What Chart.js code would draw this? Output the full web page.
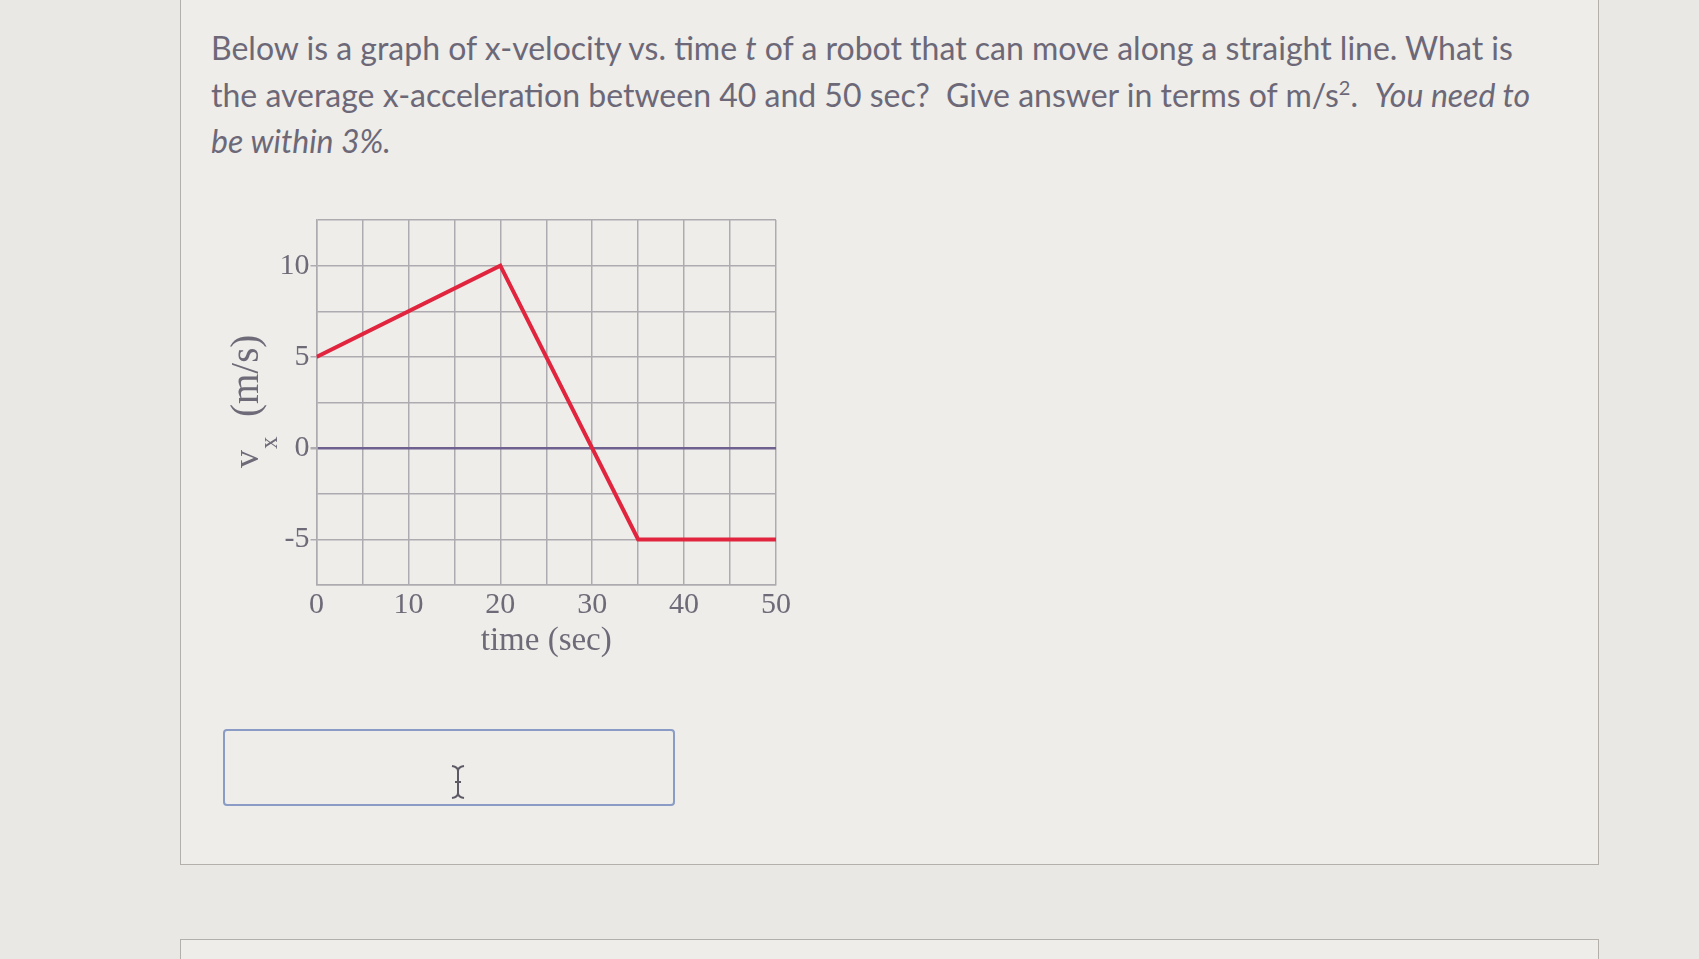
<!DOCTYPE html>
<html lang="en">
<head>
<meta charset="utf-8">
<script src="https://cdn.jsdelivr.net/npm/chart.js@4.4.1/dist/chart.umd.min.js"></script>
<style>
    html, body {
        margin: 0;
        padding: 0;
        width: 1699px;
        height: 959px;
        overflow: hidden;
        background: #e9e8e4;
    }

    .panel {
        position: absolute;
        left: 180px;
        top: -10px;
        width: 1417px;
        height: 873px;
        border: 1.5px solid #b3b0ac;
        background: #eeede9;
    }

    .nextPanel {
        position: absolute;
        left: 180px;
        top: 939px;
        width: 1417px;
        height: 40px;
        border: 1.5px solid #b3b0ac;
        background: #eeede9;
    }

    .question {
        position: absolute;
        left: 211px;
        top: 25px;
        font-family: Lato, sans-serif;
        font-size: 32px;
        line-height: 46.5px;
        color: #6c6878;
        white-space: nowrap;
    }

    .question sup {
        font-size: 20px;
        line-height: 0;
    }

    .chartBox {
        position: absolute;
        left: 200px;
        top: 200px;
        width: 640px;
        height: 470px;
    }

    .answerBox {
        position: absolute;
        left: 223px;
        top: 729px;
        width: 448px;
        height: 73px;
        border: 2px solid #8a9cc6;
        border-radius: 4px;
    }

    .cursor {
        position: absolute;
        left: 449px;
        top: 764px;
    }
</style>
</head>
<body>

<div class="panel"></div>
<div class="nextPanel"></div>

<div class="question">
    Below is a graph of x-velocity vs. time <i>t</i> of a robot that can move along a straight line. What is<br>
    the average x-acceleration between 40 and 50 sec?&nbsp; Give answer in terms of m/s<sup>2</sup>.&nbsp; <i>You need to<br>
    be within 3%.</i>
</div>

<div class="chartBox">
    <canvas id="velocityChart"></canvas>
</div>

<div class="answerBox"></div>
<svg class="cursor" width="18" height="36" viewBox="0 0 18 36">
    <path d="M3 2 Q9 3 9 7 L9 29 Q9 33 3 34 M15 2 Q9 3 9 7 M9 29 Q9 33 15 34 M6 18 L12 18"
          fill="none" stroke="#5d5a66" stroke-width="2"/>
</svg>

<script>
    // x-velocity vs time
    var times = [0, 20, 35, 50];
    var velocities = [5, 10, -5, -5];
    var xTickLabels = [0, 10, 20, 30, 40, 50];
    var yTickLabels = [-5, 0, 5, 10];

    var inkColor = '#6e6a78';
    var gridColor = '#aeabb0';

    // the v_x (m/s) title needs a subscript, so it is drawn by hand
    var yTitlePlugin = {
        id: 'yTitle',
        afterDraw: function (chart) {
            var ctx = chart.ctx;
            ctx.save();
            ctx.translate(58, 268);
            ctx.rotate(-Math.PI / 2);
            ctx.fillStyle = inkColor;
            ctx.textBaseline = 'alphabetic';
            ctx.textAlign = 'left';
            ctx.font = '36px "Liberation Serif", serif';
            ctx.fillText('v', 0, 0);
            ctx.font = '39px "Liberation Serif", serif';
            ctx.fillText('(m/s)', 51, 0);
            ctx.font = '25px "Liberation Serif", serif';
            ctx.fillText('x', 19, 19);
            ctx.restore();
        }
    };

    var points = times.map(function (t, i) {
        return {x: t, y: velocities[i]};
    });

    var ctx = document.getElementById('velocityChart').getContext('2d');
    var chart = new Chart(ctx, {
        type: 'line',
        data: {
            datasets: [{
                data: points,
                borderColor: '#e1253f',
                borderWidth: 4,
                pointRadius: 0,
                tension: 0,
                fill: false
            }]
        },
        options: {
            responsive: true,
            maintainAspectRatio: false,
            animation: false,
            layout: {
                padding: {top: 20, right: 64, left: 0, bottom: 0}
            },
            plugins: {
                legend: {display: false},
                tooltip: {enabled: false}
            },
            scales: {
                x: {
                    type: 'linear',
                    min: 0,
                    max: 50,
                    afterFit: function (scale) {
                        scale.height = 85;
                    },
                    ticks: {
                        stepSize: 5,
                        autoSkip: false,
                        maxRotation: 0,
                        padding: 2,
                        color: inkColor,
                        font: {family: '"Liberation Serif", serif', size: 30},
                        callback: function (value) {
                            return xTickLabels.indexOf(value) >= 0 ? String(value) : '';
                        }
                    },
                    grid: {
                        color: gridColor,
                        lineWidth: 1.5,
                        drawTicks: false
                    },
                    border: {display: true, color: gridColor, width: 1.5},
                    title: {
                        display: true,
                        text: 'time (sec)',
                        color: inkColor,
                        font: {family: '"Liberation Serif", serif', size: 33},
                        padding: {top: 0, bottom: 9}
                    }
                },
                y: {
                    type: 'linear',
                    min: -7.5,
                    max: 12.5,
                    afterFit: function (scale) {
                        scale.width = 116.5;
                    },
                    ticks: {
                        stepSize: 2.5,
                        autoSkip: false,
                        padding: 1,
                        color: inkColor,
                        font: {family: '"Liberation Serif", serif', size: 30},
                        callback: function (value) {
                            return yTickLabels.indexOf(value) >= 0 ? String(value) : '';
                        }
                    },
                    grid: {
                        tickLength: 6,
                        color: function (c) {
                            return c.tick && c.tick.value === 0 ? '#6e6190' : gridColor;
                        },
                        lineWidth: function (c) {
                            return c.tick && c.tick.value === 0 ? 2.5 : 1.5;
                        },
                        tickColor: function (c) {
                            return c.tick && yTickLabels.indexOf(c.tick.value) >= 0 ? gridColor : 'rgba(0,0,0,0)';
                        }
                    },
                    border: {display: true, color: gridColor, width: 1.5}
                }
            }
        },
        plugins: [yTitlePlugin]
    });
</script>
</body>
</html>
